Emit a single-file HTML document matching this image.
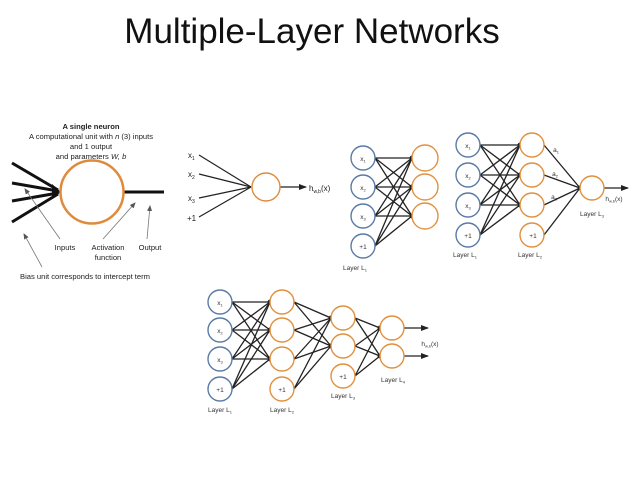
<!DOCTYPE html>
<html><head><meta charset="utf-8"><style>
html,body{margin:0;padding:0;background:#fff;}
svg{display:block;font-family:"Liberation Sans",Arial,sans-serif;}
</style></head><body>
<svg id="s" width="638" height="478" viewBox="0 0 638 478" xmlns="http://www.w3.org/2000/svg">
<defs>
<marker id="ah" markerWidth="8" markerHeight="6" refX="7" refY="3" orient="auto" markerUnits="userSpaceOnUse"><path d="M0,0 L8,3 L0,6 z" fill="#222"/></marker>
<marker id="ga" markerWidth="6" markerHeight="5" refX="5" refY="2.5" orient="auto" markerUnits="userSpaceOnUse"><path d="M0,0 L6,2.5 L0,5 z" fill="#555"/></marker>
</defs>
<text x="312" y="43" font-size="35" text-anchor="middle" fill="#111">Multiple-Layer Networks</text>

<!-- single neuron -->
<g font-size="7.6" fill="#222" text-anchor="middle">
<text x="91" y="129" font-weight="bold">A single neuron</text>
<text x="91" y="139">A computational unit with <tspan font-style="italic">n</tspan> (3) inputs</text>
<text x="91" y="149">and 1 output</text>
<text x="91" y="159">and parameters <tspan font-style="italic">W, b</tspan></text>
<text x="65" y="250">Inputs</text>
<text x="108" y="250">Activation</text>
<text x="108" y="260">function</text>
<text x="150" y="250">Output</text>
<text x="85" y="279">Bias unit corresponds to intercept term</text>
</g>
<g stroke="#111" stroke-width="3">
<line x1="12" y1="163" x2="58" y2="190"/>
<line x1="12" y1="183" x2="58" y2="191"/>
<line x1="12" y1="201" x2="58" y2="193"/>
<line x1="12" y1="222" x2="58" y2="194"/>
<line x1="123" y1="192" x2="164" y2="192"/>
</g>
<path d="M52,184 L61,192 L52,199 z" fill="#111"/>
<circle cx="92" cy="192" r="31.5" fill="none" stroke="#e08a3c" stroke-width="2.5"/>
<g stroke="#777" stroke-width="0.8" marker-end="url(#ga)">
<line x1="60" y1="239" x2="25" y2="189"/>
<line x1="103" y1="239" x2="135" y2="203"/>
<line x1="147" y1="239" x2="150" y2="206"/>
<line x1="42" y1="267" x2="24" y2="234"/>
</g>

<!-- neuron diagram 2 -->
<g font-size="8" fill="#222">
<text x="188" y="158">x<tspan font-size="5" dy="2">1</tspan></text>
<text x="188" y="177">x<tspan font-size="5" dy="2">2</tspan></text>
<text x="188" y="201">x<tspan font-size="5" dy="2">3</tspan></text>
<text x="187" y="221">+1</text>
<text x="309" y="191">h<tspan font-size="5" dy="2">w,b</tspan><tspan dy="-2">(x)</tspan></text>
</g>
<g stroke="#222" stroke-width="1.2">
<line x1="199" y1="155" x2="251" y2="187"/>
<line x1="199" y1="174" x2="251" y2="187"/>
<line x1="199" y1="198" x2="251" y2="187"/>
<line x1="199" y1="217" x2="251" y2="187"/>
<line x1="280" y1="187" x2="306" y2="187" marker-end="url(#ah)"/>
</g>
<circle cx="266" cy="187" r="14" fill="none" stroke="#e08a3c" stroke-width="1.4"/>

<g id="lines" stroke="#222" stroke-width="1.3"></g>
<g id="circ"></g>
<g font-size="6.5" fill="#333" text-anchor="middle" id="labs">
<text x="363" y="161">x<tspan font-size="4" dy="1.5">1</tspan></text>
<text x="363" y="190">x<tspan font-size="4" dy="1.5">2</tspan></text>
<text x="363" y="219">x<tspan font-size="4" dy="1.5">3</tspan></text>
<text x="363" y="249">+1</text>
<text x="355" y="270">Layer L<tspan font-size="4" dy="1.5">1</tspan></text>

<text x="468" y="148">x<tspan font-size="4" dy="1.5">1</tspan></text>
<text x="468" y="178">x<tspan font-size="4" dy="1.5">2</tspan></text>
<text x="468" y="208">x<tspan font-size="4" dy="1.5">3</tspan></text>
<text x="468" y="238">+1</text>
<text x="533" y="238">+1</text>
<text x="465" y="257">Layer L<tspan font-size="4" dy="1.5">1</tspan></text>
<text x="530" y="257">Layer L<tspan font-size="4" dy="1.5">2</tspan></text>
<text x="592" y="216">Layer L<tspan font-size="4" dy="1.5">3</tspan></text>
<text x="556" y="152">a<tspan font-size="4" dy="1.5">1</tspan></text>
<text x="555" y="176">a<tspan font-size="4" dy="1.5">2</tspan></text>
<text x="554" y="199">a<tspan font-size="4" dy="1.5">3</tspan></text>
<text x="614" y="201">h<tspan font-size="4" dy="1.5">w,b</tspan><tspan dy="-1.5">(x)</tspan></text>

<text x="220" y="305">x<tspan font-size="4" dy="1.5">1</tspan></text>
<text x="220" y="333">x<tspan font-size="4" dy="1.5">2</tspan></text>
<text x="220" y="362">x<tspan font-size="4" dy="1.5">3</tspan></text>
<text x="220" y="392">+1</text>
<text x="282" y="392">+1</text>
<text x="343" y="379">+1</text>
<text x="220" y="412">Layer L<tspan font-size="4" dy="1.5">1</tspan></text>
<text x="282" y="412">Layer L<tspan font-size="4" dy="1.5">2</tspan></text>
<text x="343" y="398">Layer L<tspan font-size="4" dy="1.5">3</tspan></text>
<text x="393" y="382">Layer L<tspan font-size="4" dy="1.5">4</tspan></text>
<text x="430" y="346">h<tspan font-size="4" dy="1.5">w,b</tspan><tspan dy="-1.5">(x)</tspan></text>
</g>
</svg>
<script>
var NS="http://www.w3.org/2000/svg",L=document.getElementById("lines"),C=document.getElementById("circ");
function ln(a,b,c,d,m){var e=document.createElementNS(NS,"line");e.setAttribute("x1",a);e.setAttribute("y1",b);e.setAttribute("x2",c);e.setAttribute("y2",d);if(m)e.setAttribute("marker-end","url(#ah)");L.appendChild(e);}
function ci(x,y,r,col){var e=document.createElementNS(NS,"circle");e.setAttribute("cx",x);e.setAttribute("cy",y);e.setAttribute("r",r);e.setAttribute("fill","#fff");e.setAttribute("stroke",col);e.setAttribute("stroke-width","1.4");C.appendChild(e);}
function dot(x,y){var e=document.createElementNS(NS,"circle");e.setAttribute("cx",x);e.setAttribute("cy",y);e.setAttribute("r",1.8);e.setAttribute("fill","#111");L.appendChild(e);}
var B="#5b7ba6",O="#e0913f",r=12;
function layer(xa,ya,xb,yb,rb){for(var i=0;i<ya.length;i++)for(var j=0;j<yb.length;j++)ln(xa+r,ya[i],xb-rb,yb[j]);for(var j=0;j<yb.length;j++)dot(xb-rb,yb[j]);}
var a=[158,187,216,246],h=[158,187,216];layer(363,a,425,h,13);
a.forEach(function(y){ci(363,y,12,B)});h.forEach(function(y){ci(425,y,13,O)});
a=[145,175,205,235];h=[145,175,205];layer(468,a,532,h,12);
layer(532,[145,175,205,235],592,[188],12);
ln(604,188,628,188,1);
a.forEach(function(y){ci(468,y,12,B)});[145,175,205,235].forEach(function(y){ci(532,y,12,O)});ci(592,188,12,O);
a=[302,330,359,389];var h1=[302,330,359],h2=[318,346],o=[328,356];
layer(220,a,282,h1,12);layer(282,[302,330,359,389],343,h2,12);layer(343,[318,346,376],392,o,12);
o.forEach(function(y){ln(404,y,428,y,1)});
a.forEach(function(y){ci(220,y,12,B)});[302,330,359,389].forEach(function(y){ci(282,y,12,O)});[318,346,376].forEach(function(y){ci(343,y,12,O)});o.forEach(function(y){ci(392,y,12,O)});
</script>
</body></html>
